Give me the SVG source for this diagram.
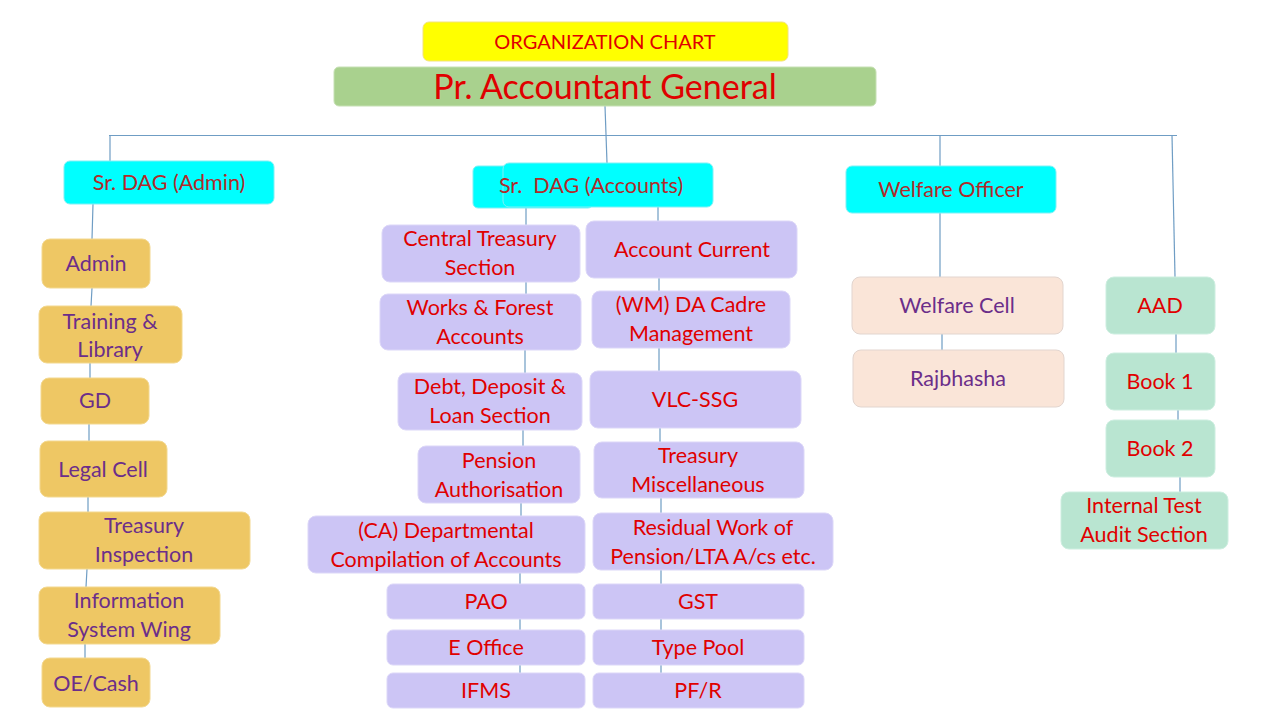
<svg xmlns="http://www.w3.org/2000/svg" width="1280" height="720" viewBox="0 0 1280 720">
<style>
text{font-family:Lato,"Open Sans","Liberation Sans",sans-serif;font-size:21.5px;text-anchor:middle}
.y{fill:#ffff00;stroke:#f2e27a;stroke-width:1}
.g{fill:#a9d18e;stroke:#c6e0b4;stroke-width:1}
.c{fill:#00ffff;stroke:#7ff0f5;stroke-width:1}
.o{fill:#eec764;stroke:#f3d88f;stroke-width:1}
.l{fill:#ccc5f5;stroke:#dcd7f8;stroke-width:1}
.p{fill:#fae5d8;stroke:#e2d5cf;stroke-width:1}
.m{fill:#b9e5d1;stroke:#cdeee0;stroke-width:1}
.r{fill:#e00000}
.br{fill:#b02a2a}
.pu{fill:#6b2e8a}
.ln{stroke:#6f9dc4;stroke-width:1.2;fill:none}
</style>
<rect width="1280" height="720" fill="#ffffff"/>
<g id="connectors" class="ln">
<path d="M109 135.5H1177"/>
<path d="M605 106L607 163"/>
<path d="M110 135V161"/>
<path d="M940 135V166"/>
<path d="M1172 135L1175 277"/>
<path d="M93 204L92 239M92 288L91 306M90 363L90 378M89 424L89 441M88 497L88 512M87 569L86 587M85 644L85 658"/>
<path d="M526 208V225M526 282V294M525 350V373M523 430V446M521 503V516M520 573V584M520 619V630M520 665V673"/>
<path d="M658 207V221M659 278V291M659 348V371M660 428V442M661 498V513M661 570V584M661 619V630M661 665V673"/>
<path d="M940 213V277M942 334V350"/>
<path d="M1176 334V353M1178 410V420M1180 477V492"/>
</g>
<g id="title"><rect class="y" x="423" y="22" width="365" height="39" rx="6"/><text class="r" x="605" y="49" style="font-size:20px">ORGANIZATION CHART</text></g>
<g id="pag"><rect class="g" x="334" y="67" width="542" height="39" rx="5"/><text class="r" x="605" y="99" style="font-size:34px">Pr. Accountant General</text></g>
<g id="dag-admin"><rect class="c" x="64" y="161" width="210" height="43" rx="6"/><text class="br" x="169" y="190">Sr. DAG (Admin)</text></g>
<g id="dag-accounts"><rect class="c" x="473" y="166" width="120" height="42" rx="5"/><rect class="c" x="503" y="163" width="210" height="44" rx="6"/><text class="br" x="591" y="193" xml:space="preserve">Sr.  DAG (Accounts)</text></g>
<g id="welfare-officer"><rect class="c" x="846" y="166" width="210" height="47" rx="6"/><text class="br" x="951" y="197">Welfare Officer</text></g>

<g id="admin"><rect class="o" x="42" y="239" width="108" height="49" rx="8"/><text class="pu" x="96" y="271">Admin</text></g>
<g id="training"><rect class="o" x="39" y="306" width="143" height="57" rx="8"/><text class="pu" x="110" y="329">Training &amp;</text><text class="pu" x="110" y="357">Library</text></g>
<g id="gd"><rect class="o" x="41" y="378" width="108" height="46" rx="8"/><text class="pu" x="95" y="408">GD</text></g>
<g id="legal"><rect class="o" x="40" y="441" width="127" height="56" rx="8"/><text class="pu" x="103" y="477">Legal Cell</text></g>
<g id="treasury-inspection"><rect class="o" x="39" y="512" width="211" height="57" rx="8"/><text class="pu" x="144" y="533">Treasury</text><text class="pu" x="144" y="562">Inspection</text></g>
<g id="isw"><rect class="o" x="39" y="587" width="181" height="57" rx="8"/><text class="pu" x="129" y="608">Information</text><text class="pu" x="129" y="637">System Wing</text></g>
<g id="oe-cash"><rect class="o" x="42" y="658" width="108" height="49" rx="8"/><text class="pu" x="96" y="691">OE/Cash</text></g>

<g id="cts"><rect class="l" x="382" y="225" width="198" height="57" rx="8"/><text class="r" x="480" y="246">Central Treasury</text><text class="r" x="480" y="275">Section</text></g>
<g id="wfa"><rect class="l" x="380" y="294" width="201" height="56" rx="8"/><text class="r" x="480" y="315">Works &amp; Forest</text><text class="r" x="480" y="344">Accounts</text></g>
<g id="ddl"><rect class="l" x="398" y="373" width="184" height="57" rx="8"/><text class="r" x="490" y="394">Debt, Deposit &amp;</text><text class="r" x="490" y="423">Loan Section</text></g>
<g id="pension"><rect class="l" x="418" y="446" width="162" height="57" rx="8"/><text class="r" x="499" y="468">Pension</text><text class="r" x="499" y="497">Authorisation</text></g>
<g id="ca"><rect class="l" x="308" y="516" width="277" height="57" rx="8"/><text class="r" x="446" y="538">(CA) Departmental</text><text class="r" x="446" y="567">Compilation of Accounts</text></g>
<g id="pao"><rect class="l" x="387" y="584" width="198" height="35" rx="6"/><text class="r" x="486" y="609">PAO</text></g>
<g id="eoffice"><rect class="l" x="387" y="630" width="198" height="35" rx="6"/><text class="r" x="486" y="655">E Office</text></g>
<g id="ifms"><rect class="l" x="387" y="673" width="198" height="35" rx="6"/><text class="r" x="486" y="698">IFMS</text></g>

<g id="account-current"><rect class="l" x="586" y="221" width="211" height="57" rx="8"/><text class="r" x="692" y="257">Account Current</text></g>
<g id="wm"><rect class="l" x="592" y="291" width="198" height="57" rx="8"/><text class="r" x="691" y="312">(WM) DA Cadre</text><text class="r" x="691" y="341">Management</text></g>
<g id="vlc"><rect class="l" x="590" y="371" width="211" height="57" rx="8"/><text class="r" x="695" y="407">VLC-SSG</text></g>
<g id="tm"><rect class="l" x="594" y="442" width="210" height="56" rx="8"/><text class="r" x="698" y="463">Treasury</text><text class="r" x="698" y="492">Miscellaneous</text></g>
<g id="residual"><rect class="l" x="593" y="513" width="240" height="57" rx="8"/><text class="r" x="713" y="535">Residual Work of</text><text class="r" x="713" y="564">Pension/LTA A/cs etc.</text></g>
<g id="gst"><rect class="l" x="593" y="584" width="211" height="35" rx="6"/><text class="r" x="698" y="609">GST</text></g>
<g id="typepool"><rect class="l" x="593" y="630" width="211" height="35" rx="6"/><text class="r" x="698" y="655">Type Pool</text></g>
<g id="pfr"><rect class="l" x="593" y="673" width="211" height="35" rx="6"/><text class="r" x="698" y="698">PF/R</text></g>

<g id="welfare-cell"><rect class="p" x="852" y="277" width="211" height="57" rx="8"/><text class="pu" x="957" y="313">Welfare Cell</text></g>
<g id="rajbhasha"><rect class="p" x="853" y="350" width="211" height="57" rx="8"/><text class="pu" x="958" y="386">Rajbhasha</text></g>

<g id="aad"><rect class="m" x="1106" y="277" width="109" height="57" rx="8"/><text class="r" x="1160" y="313">AAD</text></g>
<g id="book1"><rect class="m" x="1106" y="353" width="109" height="57" rx="8"/><text class="r" x="1160" y="389">Book 1</text></g>
<g id="book2"><rect class="m" x="1106" y="420" width="109" height="57" rx="8"/><text class="r" x="1160" y="456">Book 2</text></g>
<g id="itas"><rect class="m" x="1061" y="492" width="167" height="57" rx="8"/><text class="r" x="1144" y="513">Internal Test</text><text class="r" x="1144" y="542">Audit Section</text></g>
</svg>
